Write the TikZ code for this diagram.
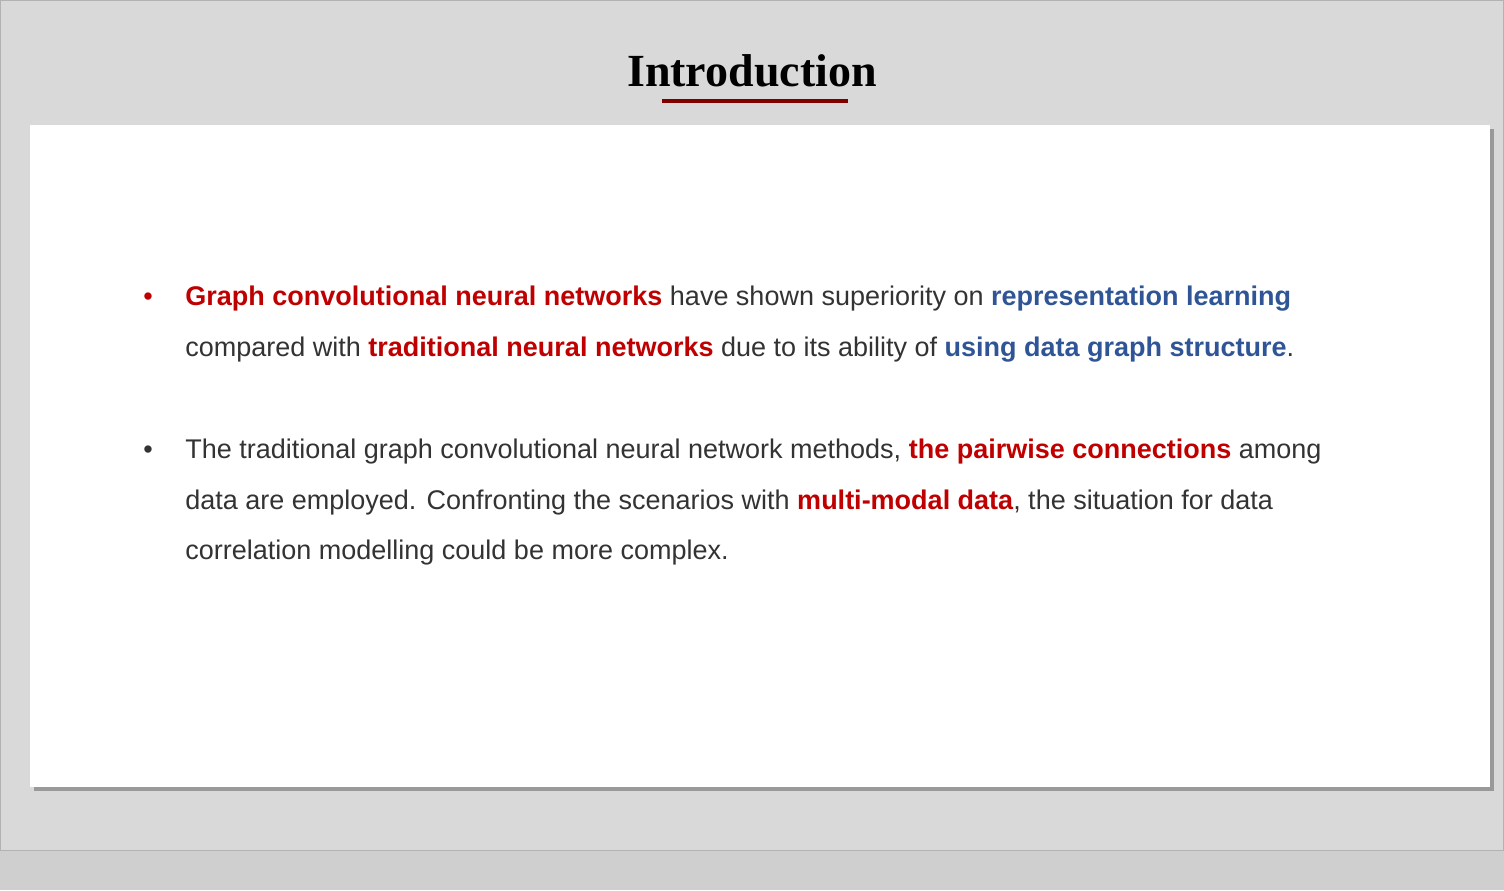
\documentclass[tikz,border=0pt]{standalone}
\usepackage{fontspec}
\setmainfont{Liberation Sans}
\newfontfamily\titlefont{Liberation Serif}
\definecolor{rd}{RGB}{192,0,0}
\definecolor{bl}{RGB}{47,85,151}
\definecolor{tx}{RGB}{51,51,51}
\definecolor{bg}{RGB}{217,217,217}
\definecolor{bot}{RGB}{207,207,207}
\definecolor{ul}{RGB}{128,0,0}
\newcommand{\R}[1]{\textcolor{rd}{\bfseries #1}}
\newcommand{\B}[1]{\textcolor{bl}{\bfseries #1}}
\begin{document}
\begin{tikzpicture}[x=0.5pt,y=-0.5pt,
  line/.style={anchor=base west,inner sep=0pt,text=tx,font=\fontsize{13.5}{16}\selectfont},
  bul/.style={anchor=base,inner sep=0pt,font=\fontsize{13.5}{16}\selectfont}]
\fill[bg] (0,0) rectangle (1504,890);
\fill[bot] (0,850) rectangle (1504,890);
\draw[gray!60] (0.5,0.5) rectangle (1503.5,850);
\fill[black!40] (34,129) rectangle (1494,791);
\fill[white] (30,125) rectangle (1490,787);
\node[inner sep=0pt,anchor=base,font=\titlefont\bfseries\fontsize{23}{26}\selectfont] (title) at (752,86) {Introduction};
\draw[ul,line width=2pt] (662,101) -- (848,101);
\node[bul,text=rd] (b1) at (148,305) {\textbullet};
\node[bul,text=tx] (b2) at (148,458) {\textbullet};
\node[line] (l1) at (185,305) {\R{Graph convolutional neural networks} have shown superiority on \B{representation learning}};
\node[line] (l2) at (185,356) {compared with \R{traditional neural networks} due to its ability of \B{using data graph structure}.};
\node[line] (l3) at (185,458) {The traditional graph convolutional neural network methods, \R{the pairwise connections} among};
\node[line] (l4) at (185,509) {data are employed. Confronting the scenarios with \R{multi-modal data}, the situation for data};
\node[line] (l5) at (185,559) {correlation modelling could be more complex.};
\end{tikzpicture}
\end{document}
